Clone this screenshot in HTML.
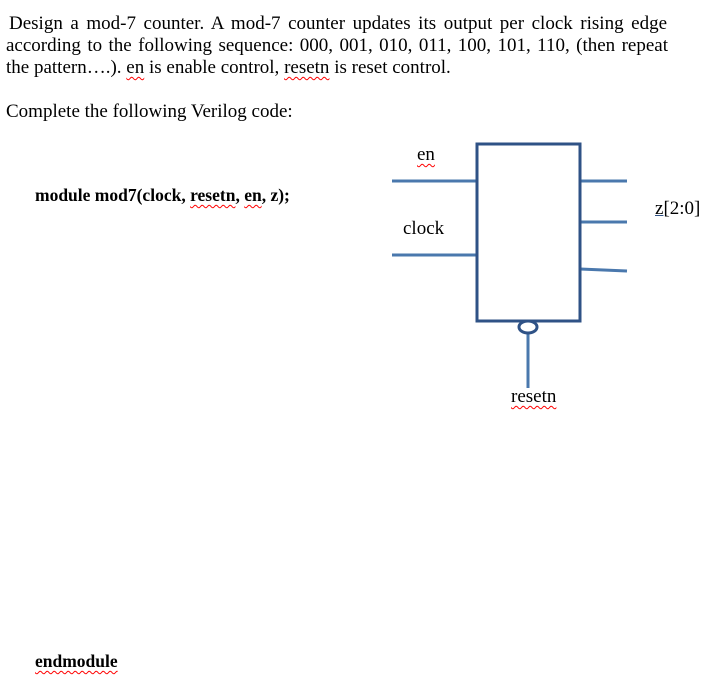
<!DOCTYPE html>
<html><head><meta charset="utf-8"><style>
body{margin:0;width:721px;height:685px;background:#fff;position:relative;overflow:hidden;font-family:"Liberation Serif",serif;color:#000}
.t{position:absolute;white-space:nowrap}
.l{position:absolute;left:6px;width:662px;font-size:19px;line-height:22px;text-align:justify;text-align-last:justify;white-space:nowrap}
.w{text-decoration:underline wavy red;text-decoration-thickness:1px;text-underline-offset:3px}
</style></head><body>
<div class="l" style="top:13px;left:9px;width:658px">Design a mod-7 counter. A mod-7 counter updates its output per clock rising edge</div>
<div class="l" style="top:35px">according to the following sequence: 000, 001, 010, 011, 100, 101, 110, (then repeat</div>
<div class="l" style="top:57px;text-align-last:left">the pattern….). <span class="w">en</span> is enable control, <span class="w">resetn</span> is reset control.</div>
<div class="t" style="left:6px;top:101px;font-size:19px">Complete the following Verilog code:</div>
<div class="t" style="left:35px;top:185px;font-size:17.5px;font-weight:bold">module mod7(clock, <span class="w">resetn</span>, <span class="w">en</span>, z);</div>
<div class="t" style="left:35px;top:651px;font-size:17.5px;font-weight:bold"><span class="w">endmodule</span></div>
<svg width="721" height="685" style="position:absolute;left:0;top:0">
<g stroke="#4a78ad" stroke-width="3" fill="none">
<line x1="392" y1="181" x2="476" y2="181"/>
<line x1="392" y1="255" x2="476" y2="255"/>
<line x1="580" y1="181" x2="627" y2="181"/>
<line x1="580" y1="222" x2="627" y2="222"/>
<line x1="580" y1="269" x2="627" y2="271"/>
<line x1="528" y1="333" x2="528" y2="388"/>
</g>
<rect x="477" y="144" width="103" height="177" fill="none" stroke="#2f5286" stroke-width="3"/>
<ellipse cx="528" cy="327" rx="9" ry="6" fill="#fff" stroke="#2f5286" stroke-width="3"/>
</svg>
<div class="t" style="left:417px;top:144px;font-size:19px"><span class="w">en</span></div>
<div class="t" style="left:403px;top:218px;font-size:19px">clock</div>
<div class="t" style="left:655px;top:198px;font-size:19px"><span style="text-decoration:underline;text-decoration-color:#2f5286">z</span>[2:0]</div>
<div class="t" style="left:511px;top:386px;font-size:19px"><span class="w">resetn</span></div>
</body></html>
